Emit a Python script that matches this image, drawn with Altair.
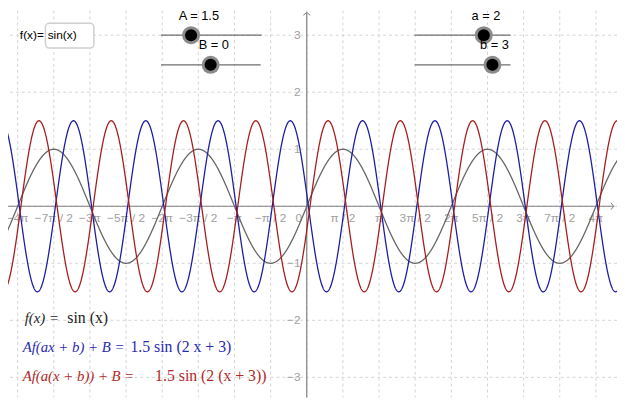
import numpy as np
import pandas as pd
import altair as alt

# ---- parameters shown on the sliders ----
A_val = [1.5]
B_val = [0]
a_val = [2]
b_val = [3]

# ---- view window (data units) ----
x_dom = [-12.986, 13.484]
y_dom = [-3.353, 3.4326]

# ---- grid / tick values ----
x_ticks_k = list(range(-8, 9))          # multiples of pi/2
x_tick_labels = ["−4π", "−7π / 2", "−3π", "−5π / 2", "−2π", "−3π / 2", "−π", "−π / 2", "0",
                 "π / 2", "π", "3π / 2", "2π", "5π / 2", "3π", "7π / 2", "4π"]
y_ticks = [-3, -2, -1, 1, 2, 3]
y_tick_labels = ["−3", "−2", "−1", "1", "2", "3"]

# ---- curves ----
A, B, a, b = A_val[0], B_val[0], a_val[0], b_val[0]
xs = np.linspace(-13.2, 13.7, 3000)
curve_names = ["f", "g", "h"]
curve_colors = ["#666666", "#1c1ca6", "#a81c1c"]
ys = [np.sin(xs), A * np.sin(a * xs + b) + B, A * np.sin(a * (xs + b)) + B]
curves = pd.concat([pd.DataFrame({"x": xs, "y": yv, "c": n}) for n, yv in zip(curve_names, ys)])

W, H = 617, 392
xs_ = alt.Scale(domain=x_dom, nice=False, zero=False)
ys_ = alt.Scale(domain=y_dom, nice=False, zero=False)

grid_x = pd.DataFrame({"x": [k * np.pi / 2 for k in x_ticks_k]})
grid_y = pd.DataFrame({"y": [-3, -2, -1, 0, 1, 2, 3]})

gridx = alt.Chart(grid_x).mark_rule(color="#d4d4d4", strokeDash=[3, 3], strokeWidth=1).encode(
    x=alt.X("x:Q", scale=xs_, axis=None))
gridy = alt.Chart(grid_y).mark_rule(color="#d4d4d4", strokeDash=[3, 3], strokeWidth=1).encode(
    y=alt.Y("y:Q", scale=ys_, axis=None))

axis_x = alt.Chart(pd.DataFrame({"y": [0]})).mark_rule(color="#808080", strokeWidth=1.2).encode(
    y=alt.Y("y:Q", scale=ys_, axis=None), x=alt.value(0), x2=alt.value(614))
axis_y = alt.Chart(pd.DataFrame({"x": [0]})).mark_rule(color="#808080", strokeWidth=1.2).encode(
    x=alt.X("x:Q", scale=xs_, axis=None), y=alt.value(2), y2=alt.value(H))

arrow_shape = "M -1 0.8 L 0 0 L 1 0.8"
arrows = alt.Chart(pd.DataFrame({"x": [0, 13.34], "y": [3.398, 0], "ang": [0, 90]})).mark_point(
    shape=arrow_shape, filled=False, color="#808080", size=50, strokeWidth=1, opacity=1).encode(
    x=alt.X("x:Q", scale=xs_, axis=None), y=alt.Y("y:Q", scale=ys_, axis=None),
    angle=alt.Angle("ang:Q", scale=None))

xlab_df = pd.DataFrame({"x": [k * np.pi / 2 for k in x_ticks_k], "t": x_tick_labels})
xlab_df = xlab_df[xlab_df.t != "0"]
xlabels = alt.Chart(xlab_df).mark_text(font="Liberation Sans", fontSize=12, color="#a0a0a0",
                                       baseline="middle", align="center").encode(
    x=alt.X("x:Q", scale=xs_, axis=None), y=alt.Y("yy:Q", scale=ys_, axis=None), text="t:N"
).transform_calculate(yy="-0.2")
zero_lab = alt.Chart(pd.DataFrame({"x": [-0.35], "y": [-0.2], "t": ["0"]})).mark_text(
    font="Liberation Sans", fontSize=12, color="#a0a0a0", align="center", baseline="middle").encode(
    x=alt.X("x:Q", scale=xs_, axis=None), y=alt.Y("y:Q", scale=ys_, axis=None), text="t:N")
ylab_df = pd.DataFrame({"y": y_ticks, "t": y_tick_labels})
ylabels = alt.Chart(ylab_df).mark_text(font="Liberation Sans", fontSize=12, color="#a0a0a0",
                                       align="right", baseline="middle").encode(
    x=alt.X("xx:Q", scale=xs_, axis=None), y=alt.Y("y:Q", scale=ys_, axis=None), text="t:N"
).transform_calculate(xx="-0.27")

lines = alt.Chart(curves).mark_line(strokeWidth=1.3, clip=True).encode(
    x=alt.X("x:Q", scale=xs_, axis=None), y=alt.Y("y:Q", scale=ys_, axis=None),
    color=alt.Color("c:N", scale=alt.Scale(domain=curve_names, range=curve_colors), legend=None),
    detail="c:N")

# ---- sliders ----
sl_df = pd.DataFrame({
    "x1": [-6.336, -6.336, 4.689, 4.689],
    "x2": [-1.961, -2.004, 8.854, 8.854],
    "y": [3.0, 2.481, 3.0, 2.481],
    "k": [-5.028, -4.178, 7.693, 8.07],
    "lx": [-4.689, -4.04, 7.79, 8.16],
    "ly": [3.33, 2.827, 3.33, 2.827],
    "t": [f"A = {A_val[0]}", f"B = {B_val[0]}", f"a = {a_val[0]}", f"b = {b_val[0]}"],
})
sl_lines = alt.Chart(sl_df).mark_rule(color="#6e6e6e", strokeWidth=1.2).encode(
    x=alt.X("x1:Q", scale=xs_, axis=None), x2="x2:Q", y=alt.Y("y:Q", scale=ys_, axis=None))
sl_knob_out = alt.Chart(sl_df).mark_point(filled=True, color="#8a8a8a", size=330, opacity=1).encode(
    x=alt.X("k:Q", scale=xs_, axis=None), y=alt.Y("y:Q", scale=ys_, axis=None))
sl_knob = alt.Chart(sl_df).mark_point(filled=True, color="#000000", size=150, opacity=1).encode(
    x=alt.X("k:Q", scale=xs_, axis=None), y=alt.Y("y:Q", scale=ys_, axis=None))
sl_text = alt.Chart(sl_df).mark_text(font="Liberation Sans", fontSize=13, color="#000000",
                                     align="center", baseline="middle").encode(
    x=alt.X("lx:Q", scale=xs_, axis=None), y=alt.Y("ly:Q", scale=ys_, axis=None), text="t:N")

# ---- input box ----
box = alt.Chart(pd.DataFrame({"x1": [-11.36], "x2": [-9.253], "y1": [3.208], "y2": [2.775]})).mark_rect(
    fill="#ffffff", stroke="#cfcfcf", strokeWidth=1.5, cornerRadius=4).encode(
    x=alt.X("x1:Q", scale=xs_, axis=None), x2="x2:Q",
    y=alt.Y("y1:Q", scale=ys_, axis=None), y2="y2:Q")
box_text = alt.Chart(pd.DataFrame({"x": [-12.47, -11.26], "y": [3.0, 3.0], "t": ["f(x)=", "sin(x)"]})).mark_text(
    font="Liberation Sans", fontSize=12, color="#000000", align="left", baseline="middle").encode(
    x=alt.X("x:Q", scale=xs_, axis=None), y=alt.Y("y:Q", scale=ys_, axis=None), text="t:N")

# ---- formulas ----
f_left = ["f(x) =", "Af(ax + b) + B =", "Af(a(x + b)) + B ="]
f_right = ["sin (x)", f"{A_val[0]}  sin (2 x + 3)", f"{A_val[0]}  sin (2  (x + 3))"]
f_df = pd.DataFrame({
    "xl": [-12.26, -12.35, -12.35], "xr": [-10.41, -7.666, -6.594], "y": [-1.963, -2.465, -2.972],
    "l": f_left, "r": f_right, "c": curve_names})
fcol = alt.Scale(domain=curve_names, range=["#222222", "#2a2ab0", "#b02a2a"])
f_lt = alt.Chart(f_df).mark_text(font="Liberation Serif", fontSize=15, fontStyle="italic",
                                 align="left", baseline="middle").encode(
    x=alt.X("xl:Q", scale=xs_, axis=None), y=alt.Y("y:Q", scale=ys_, axis=None), text="l:N",
    color=alt.Color("c:N", scale=fcol, legend=None))
f_rt = alt.Chart(f_df).mark_text(font="Liberation Serif", fontSize=16,
                                 align="left", baseline="middle").encode(
    x=alt.X("xr:Q", scale=xs_, axis=None), y=alt.Y("y:Q", scale=ys_, axis=None), text="r:N",
    color=alt.Color("c:N", scale=fcol, legend=None))

chart = alt.layer(
    gridx, gridy, axis_x, axis_y, arrows, xlabels, zero_lab, ylabels, lines,
    sl_lines, sl_knob_out, sl_knob, sl_text, box, box_text, f_lt, f_rt
).resolve_scale(color="independent").properties(
    width=W, height=H, autosize=alt.AutoSizeParams(type="none"), padding=0
).configure_view(stroke=None)

chart.save("out.html", embed_options={"renderer": "svg", "actions": False})
